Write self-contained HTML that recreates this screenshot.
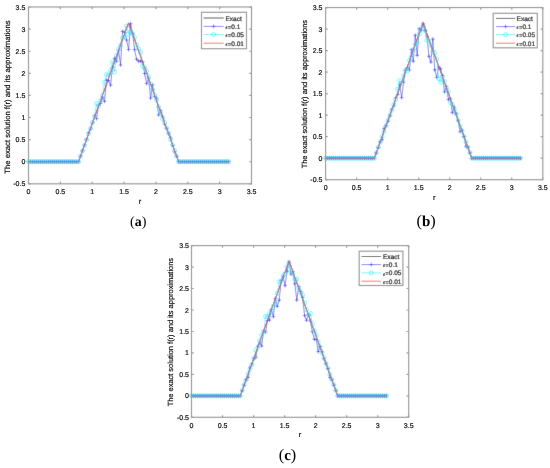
<!DOCTYPE html>
<html><head><meta charset="utf-8"><style>
html,body{margin:0;padding:0;background:#fff;width:550px;height:468px;overflow:hidden}
svg{display:block} text{text-rendering:geometricPrecision}
</style></head><body>
<svg width="550" height="468" viewBox="0 0 550 468">
<defs><filter id="bl" x="0" y="0" width="550" height="468" filterUnits="userSpaceOnUse"><feConvolveMatrix order="3" kernelMatrix="0.0052 0.0619 0.0052 0.0619 0.7314 0.0619 0.0052 0.0619 0.0052" edgeMode="duplicate"/></filter></defs>
<g filter="url(#bl)"><rect width="550" height="468" fill="#fff"/>
<polyline points="28.50,161.70 30.50,161.70 32.50,161.70 34.50,161.70 36.51,161.70 38.51,161.70 40.51,161.70 42.51,161.70 44.51,161.70 46.51,161.70 48.52,161.70 50.52,161.70 52.52,161.70 54.52,161.70 56.52,161.70 58.52,161.70 60.53,161.70 62.53,161.70 64.53,161.70 66.53,161.70 68.53,161.70 70.53,161.70 72.54,161.70 74.54,161.70 76.54,161.70 78.54,161.70 80.54,156.15 82.54,150.59 84.55,145.04 86.55,139.48 88.55,133.93 90.55,128.37 92.55,122.82 94.55,117.27 96.56,111.71 98.56,106.16 100.56,100.60 102.56,95.05 104.56,89.49 106.56,83.94 108.57,78.38 110.57,72.83 112.57,67.28 114.57,61.72 116.57,56.17 118.57,50.61 120.58,45.06 122.58,39.50 124.58,33.95 126.58,28.40 128.58,22.84 130.58,28.40 132.59,33.95 134.59,39.50 136.59,45.06 138.59,50.61 140.59,56.17 142.59,61.72 144.60,67.28 146.60,72.83 148.60,78.38 150.60,83.94 152.60,89.49 154.60,95.05 156.61,100.60 158.61,106.16 160.61,111.71 162.61,117.27 164.61,122.82 166.61,128.37 168.62,133.93 170.62,139.48 172.62,145.04 174.62,150.59 176.62,156.15 178.62,161.70 180.62,161.70 182.63,161.70 184.63,161.70 186.63,161.70 188.63,161.70 190.63,161.70 192.63,161.70 194.64,161.70 196.64,161.70 198.64,161.70 200.64,161.70 202.64,161.70 204.64,161.70 206.65,161.70 208.65,161.70 210.65,161.70 212.65,161.70 214.65,161.70 216.65,161.70 218.66,161.70 220.66,161.70 222.66,161.70 224.66,161.70 226.66,161.70 228.66,161.70" fill="none" stroke="#555" stroke-width="0.9"/>
<polyline points="28.50,161.70 30.50,161.70 32.50,161.70 34.50,161.70 36.51,161.70 38.51,161.70 40.51,161.70 42.51,161.70 44.51,161.70 46.51,161.70 48.52,161.70 50.52,161.70 52.52,161.70 54.52,161.70 56.52,161.70 58.52,161.70 60.53,161.70 62.53,161.70 64.53,161.70 66.53,161.70 68.53,161.70 70.53,161.70 72.54,161.70 74.54,161.70 76.54,161.70 78.54,161.70 80.54,156.17 82.54,150.69 84.55,144.97 86.55,139.39 88.55,132.75 90.55,129.12 92.55,123.11 94.55,115.45 96.56,118.70 98.56,105.42 100.56,103.50 102.56,97.24 104.56,101.40 106.56,80.10 108.57,80.43 110.57,85.20 112.57,67.41 114.57,58.30 116.57,61.20 118.57,50.60 120.58,65.00 122.58,31.30 124.58,32.43 126.58,40.00 128.58,49.60 130.58,23.70 132.59,33.30 134.59,49.60 136.59,59.20 138.59,61.10 140.59,61.20 142.59,61.76 144.60,73.50 146.60,83.60 148.60,78.29 150.60,98.10 152.60,84.70 154.60,96.52 156.61,98.10 158.61,115.00 160.61,110.50 162.61,116.59 164.61,124.10 166.61,128.20 168.62,133.25 170.62,137.40 172.62,145.31 174.62,152.00 176.62,156.12 178.62,161.70 180.62,161.70 182.63,161.70 184.63,161.70 186.63,161.70 188.63,161.70 190.63,161.70 192.63,161.70 194.64,161.70 196.64,161.70 198.64,161.70 200.64,161.70 202.64,161.70 204.64,161.70 206.65,161.70 208.65,161.70 210.65,161.70 212.65,161.70 214.65,161.70 216.65,161.70 218.66,161.70 220.66,161.70 222.66,161.70 224.66,161.70 226.66,161.70 228.66,161.70" fill="none" stroke="#3a3aff" stroke-width="0.6"/>
<path d="M26.65 161.70h3.7M28.50 159.85v3.7M28.65 161.70h3.7M30.50 159.85v3.7M30.65 161.70h3.7M32.50 159.85v3.7M32.65 161.70h3.7M34.50 159.85v3.7M34.66 161.70h3.7M36.51 159.85v3.7M36.66 161.70h3.7M38.51 159.85v3.7M38.66 161.70h3.7M40.51 159.85v3.7M40.66 161.70h3.7M42.51 159.85v3.7M42.66 161.70h3.7M44.51 159.85v3.7M44.66 161.70h3.7M46.51 159.85v3.7M46.67 161.70h3.7M48.52 159.85v3.7M48.67 161.70h3.7M50.52 159.85v3.7M50.67 161.70h3.7M52.52 159.85v3.7M52.67 161.70h3.7M54.52 159.85v3.7M54.67 161.70h3.7M56.52 159.85v3.7M56.67 161.70h3.7M58.52 159.85v3.7M58.68 161.70h3.7M60.53 159.85v3.7M60.68 161.70h3.7M62.53 159.85v3.7M62.68 161.70h3.7M64.53 159.85v3.7M64.68 161.70h3.7M66.53 159.85v3.7M66.68 161.70h3.7M68.53 159.85v3.7M68.68 161.70h3.7M70.53 159.85v3.7M70.69 161.70h3.7M72.54 159.85v3.7M72.69 161.70h3.7M74.54 159.85v3.7M74.69 161.70h3.7M76.54 159.85v3.7M76.69 161.70h3.7M78.54 159.85v3.7M78.69 156.17h3.7M80.54 154.32v3.7M80.69 150.69h3.7M82.54 148.84v3.7M82.70 144.97h3.7M84.55 143.12v3.7M84.70 139.39h3.7M86.55 137.54v3.7M86.70 132.75h3.7M88.55 130.90v3.7M88.70 129.12h3.7M90.55 127.27v3.7M90.70 123.11h3.7M92.55 121.26v3.7M92.70 115.45h3.7M94.55 113.60v3.7M94.71 118.70h3.7M96.56 116.85v3.7M96.71 105.42h3.7M98.56 103.57v3.7M98.71 103.50h3.7M100.56 101.65v3.7M100.71 97.24h3.7M102.56 95.39v3.7M102.71 101.40h3.7M104.56 99.55v3.7M104.71 80.10h3.7M106.56 78.25v3.7M106.72 80.43h3.7M108.57 78.58v3.7M108.72 85.20h3.7M110.57 83.35v3.7M110.72 67.41h3.7M112.57 65.56v3.7M112.72 58.30h3.7M114.57 56.45v3.7M114.72 61.20h3.7M116.57 59.35v3.7M116.72 50.60h3.7M118.57 48.75v3.7M118.73 65.00h3.7M120.58 63.15v3.7M120.73 31.30h3.7M122.58 29.45v3.7M122.73 32.43h3.7M124.58 30.58v3.7M124.73 40.00h3.7M126.58 38.15v3.7M126.73 49.60h3.7M128.58 47.75v3.7M128.73 23.70h3.7M130.58 21.85v3.7M130.74 33.30h3.7M132.59 31.45v3.7M132.74 49.60h3.7M134.59 47.75v3.7M134.74 59.20h3.7M136.59 57.35v3.7M136.74 61.10h3.7M138.59 59.25v3.7M138.74 61.20h3.7M140.59 59.35v3.7M140.74 61.76h3.7M142.59 59.91v3.7M142.75 73.50h3.7M144.60 71.65v3.7M144.75 83.60h3.7M146.60 81.75v3.7M146.75 78.29h3.7M148.60 76.44v3.7M148.75 98.10h3.7M150.60 96.25v3.7M150.75 84.70h3.7M152.60 82.85v3.7M152.75 96.52h3.7M154.60 94.67v3.7M154.76 98.10h3.7M156.61 96.25v3.7M156.76 115.00h3.7M158.61 113.15v3.7M158.76 110.50h3.7M160.61 108.65v3.7M160.76 116.59h3.7M162.61 114.74v3.7M162.76 124.10h3.7M164.61 122.25v3.7M164.76 128.20h3.7M166.61 126.35v3.7M166.77 133.25h3.7M168.62 131.40v3.7M168.77 137.40h3.7M170.62 135.55v3.7M170.77 145.31h3.7M172.62 143.46v3.7M172.77 152.00h3.7M174.62 150.15v3.7M174.77 156.12h3.7M176.62 154.27v3.7M176.77 161.70h3.7M178.62 159.85v3.7M178.77 161.70h3.7M180.62 159.85v3.7M180.78 161.70h3.7M182.63 159.85v3.7M182.78 161.70h3.7M184.63 159.85v3.7M184.78 161.70h3.7M186.63 159.85v3.7M186.78 161.70h3.7M188.63 159.85v3.7M188.78 161.70h3.7M190.63 159.85v3.7M190.78 161.70h3.7M192.63 159.85v3.7M192.79 161.70h3.7M194.64 159.85v3.7M194.79 161.70h3.7M196.64 159.85v3.7M196.79 161.70h3.7M198.64 159.85v3.7M198.79 161.70h3.7M200.64 159.85v3.7M200.79 161.70h3.7M202.64 159.85v3.7M202.79 161.70h3.7M204.64 159.85v3.7M204.80 161.70h3.7M206.65 159.85v3.7M206.80 161.70h3.7M208.65 159.85v3.7M208.80 161.70h3.7M210.65 159.85v3.7M210.80 161.70h3.7M212.65 159.85v3.7M212.80 161.70h3.7M214.65 159.85v3.7M214.80 161.70h3.7M216.65 159.85v3.7M216.81 161.70h3.7M218.66 159.85v3.7M218.81 161.70h3.7M220.66 159.85v3.7M220.81 161.70h3.7M222.66 159.85v3.7M222.81 161.70h3.7M224.66 159.85v3.7M224.81 161.70h3.7M226.66 159.85v3.7M226.81 161.70h3.7M228.66 159.85v3.7" fill="none" stroke="#3a3aff" stroke-width="0.6"/>
<polyline points="28.50,161.70 30.50,161.70 32.50,161.70 34.50,161.70 36.51,161.70 38.51,161.70 40.51,161.70 42.51,161.70 44.51,161.70 46.51,161.70 48.52,161.70 50.52,161.70 52.52,161.70 54.52,161.70 56.52,161.70 58.52,161.70 60.53,161.70 62.53,161.70 64.53,161.70 66.53,161.70 68.53,161.70 70.53,161.70 72.54,161.70 74.54,161.70 76.54,161.70 78.54,161.70 80.54,155.97 82.54,150.86 84.55,145.47 86.55,139.98 88.55,133.58 90.55,128.31 92.55,122.19 94.55,116.78 96.56,103.50 98.56,105.92 100.56,100.76 102.56,95.40 104.56,82.30 106.56,74.60 108.57,75.00 110.57,70.43 112.57,62.00 114.57,71.90 116.57,55.40 118.57,49.00 120.58,45.47 122.58,38.00 124.58,37.10 126.58,26.14 128.58,34.20 130.58,31.23 132.59,33.66 134.59,37.28 136.59,44.91 138.59,48.95 140.59,52.41 142.59,66.00 144.60,67.67 146.60,70.80 148.60,76.50 150.60,84.17 152.60,89.69 154.60,95.15 156.61,100.01 158.61,107.05 160.61,112.86 162.61,118.89 164.61,122.12 166.61,128.34 168.62,133.30 170.62,139.49 172.62,145.22 174.62,150.51 176.62,156.15 178.62,161.70 180.62,161.70 182.63,161.70 184.63,161.70 186.63,161.70 188.63,161.70 190.63,161.70 192.63,161.70 194.64,161.70 196.64,161.70 198.64,161.70 200.64,161.70 202.64,161.70 204.64,161.70 206.65,161.70 208.65,161.70 210.65,161.70 212.65,161.70 214.65,161.70 216.65,161.70 218.66,161.70 220.66,161.70 222.66,161.70 224.66,161.70 226.66,161.70 228.66,161.70" fill="none" stroke="#30f0ff" stroke-width="0.65"/>
<g fill="none" stroke="#30f0ff" stroke-width="0.65"><circle cx="28.50" cy="161.70" r="2.0"/><circle cx="30.50" cy="161.70" r="2.0"/><circle cx="32.50" cy="161.70" r="2.0"/><circle cx="34.50" cy="161.70" r="2.0"/><circle cx="36.51" cy="161.70" r="2.0"/><circle cx="38.51" cy="161.70" r="2.0"/><circle cx="40.51" cy="161.70" r="2.0"/><circle cx="42.51" cy="161.70" r="2.0"/><circle cx="44.51" cy="161.70" r="2.0"/><circle cx="46.51" cy="161.70" r="2.0"/><circle cx="48.52" cy="161.70" r="2.0"/><circle cx="50.52" cy="161.70" r="2.0"/><circle cx="52.52" cy="161.70" r="2.0"/><circle cx="54.52" cy="161.70" r="2.0"/><circle cx="56.52" cy="161.70" r="2.0"/><circle cx="58.52" cy="161.70" r="2.0"/><circle cx="60.53" cy="161.70" r="2.0"/><circle cx="62.53" cy="161.70" r="2.0"/><circle cx="64.53" cy="161.70" r="2.0"/><circle cx="66.53" cy="161.70" r="2.0"/><circle cx="68.53" cy="161.70" r="2.0"/><circle cx="70.53" cy="161.70" r="2.0"/><circle cx="72.54" cy="161.70" r="2.0"/><circle cx="74.54" cy="161.70" r="2.0"/><circle cx="76.54" cy="161.70" r="2.0"/><circle cx="78.54" cy="161.70" r="2.0"/><circle cx="80.54" cy="155.97" r="2.0"/><circle cx="82.54" cy="150.86" r="2.0"/><circle cx="84.55" cy="145.47" r="2.0"/><circle cx="86.55" cy="139.98" r="2.0"/><circle cx="88.55" cy="133.58" r="2.0"/><circle cx="90.55" cy="128.31" r="2.0"/><circle cx="92.55" cy="122.19" r="2.0"/><circle cx="94.55" cy="116.78" r="2.0"/><circle cx="96.56" cy="103.50" r="2.0"/><circle cx="98.56" cy="105.92" r="2.0"/><circle cx="100.56" cy="100.76" r="2.0"/><circle cx="102.56" cy="95.40" r="2.0"/><circle cx="104.56" cy="82.30" r="2.0"/><circle cx="106.56" cy="74.60" r="2.0"/><circle cx="108.57" cy="75.00" r="2.0"/><circle cx="110.57" cy="70.43" r="2.0"/><circle cx="112.57" cy="62.00" r="2.0"/><circle cx="114.57" cy="71.90" r="2.0"/><circle cx="116.57" cy="55.40" r="2.0"/><circle cx="118.57" cy="49.00" r="2.0"/><circle cx="120.58" cy="45.47" r="2.0"/><circle cx="122.58" cy="38.00" r="2.0"/><circle cx="124.58" cy="37.10" r="2.0"/><circle cx="126.58" cy="26.14" r="2.0"/><circle cx="128.58" cy="34.20" r="2.0"/><circle cx="130.58" cy="31.23" r="2.0"/><circle cx="132.59" cy="33.66" r="2.0"/><circle cx="134.59" cy="37.28" r="2.0"/><circle cx="136.59" cy="44.91" r="2.0"/><circle cx="138.59" cy="48.95" r="2.0"/><circle cx="140.59" cy="52.41" r="2.0"/><circle cx="142.59" cy="66.00" r="2.0"/><circle cx="144.60" cy="67.67" r="2.0"/><circle cx="146.60" cy="70.80" r="2.0"/><circle cx="148.60" cy="76.50" r="2.0"/><circle cx="150.60" cy="84.17" r="2.0"/><circle cx="152.60" cy="89.69" r="2.0"/><circle cx="154.60" cy="95.15" r="2.0"/><circle cx="156.61" cy="100.01" r="2.0"/><circle cx="158.61" cy="107.05" r="2.0"/><circle cx="160.61" cy="112.86" r="2.0"/><circle cx="162.61" cy="118.89" r="2.0"/><circle cx="164.61" cy="122.12" r="2.0"/><circle cx="166.61" cy="128.34" r="2.0"/><circle cx="168.62" cy="133.30" r="2.0"/><circle cx="170.62" cy="139.49" r="2.0"/><circle cx="172.62" cy="145.22" r="2.0"/><circle cx="174.62" cy="150.51" r="2.0"/><circle cx="176.62" cy="156.15" r="2.0"/><circle cx="178.62" cy="161.70" r="2.0"/><circle cx="180.62" cy="161.70" r="2.0"/><circle cx="182.63" cy="161.70" r="2.0"/><circle cx="184.63" cy="161.70" r="2.0"/><circle cx="186.63" cy="161.70" r="2.0"/><circle cx="188.63" cy="161.70" r="2.0"/><circle cx="190.63" cy="161.70" r="2.0"/><circle cx="192.63" cy="161.70" r="2.0"/><circle cx="194.64" cy="161.70" r="2.0"/><circle cx="196.64" cy="161.70" r="2.0"/><circle cx="198.64" cy="161.70" r="2.0"/><circle cx="200.64" cy="161.70" r="2.0"/><circle cx="202.64" cy="161.70" r="2.0"/><circle cx="204.64" cy="161.70" r="2.0"/><circle cx="206.65" cy="161.70" r="2.0"/><circle cx="208.65" cy="161.70" r="2.0"/><circle cx="210.65" cy="161.70" r="2.0"/><circle cx="212.65" cy="161.70" r="2.0"/><circle cx="214.65" cy="161.70" r="2.0"/><circle cx="216.65" cy="161.70" r="2.0"/><circle cx="218.66" cy="161.70" r="2.0"/><circle cx="220.66" cy="161.70" r="2.0"/><circle cx="222.66" cy="161.70" r="2.0"/><circle cx="224.66" cy="161.70" r="2.0"/><circle cx="226.66" cy="161.70" r="2.0"/><circle cx="228.66" cy="161.70" r="2.0"/></g>
<path d="M28.50 159.85v3.7M30.50 159.85v3.7M32.50 159.85v3.7M34.50 159.85v3.7M36.51 159.85v3.7M38.51 159.85v3.7M40.51 159.85v3.7M42.51 159.85v3.7M44.51 159.85v3.7M46.51 159.85v3.7M48.52 159.85v3.7M50.52 159.85v3.7M52.52 159.85v3.7M54.52 159.85v3.7M56.52 159.85v3.7M58.52 159.85v3.7M60.53 159.85v3.7M62.53 159.85v3.7M64.53 159.85v3.7M66.53 159.85v3.7M68.53 159.85v3.7M70.53 159.85v3.7M72.54 159.85v3.7M74.54 159.85v3.7M76.54 159.85v3.7M178.62 159.85v3.7M180.62 159.85v3.7M182.63 159.85v3.7M184.63 159.85v3.7M186.63 159.85v3.7M188.63 159.85v3.7M190.63 159.85v3.7M192.63 159.85v3.7M194.64 159.85v3.7M196.64 159.85v3.7M198.64 159.85v3.7M200.64 159.85v3.7M202.64 159.85v3.7M204.64 159.85v3.7M206.65 159.85v3.7M208.65 159.85v3.7M210.65 159.85v3.7M212.65 159.85v3.7M214.65 159.85v3.7M216.65 159.85v3.7M218.66 159.85v3.7M220.66 159.85v3.7M222.66 159.85v3.7M224.66 159.85v3.7M226.66 159.85v3.7M228.66 159.85v3.7" fill="none" stroke="#3a3aff" stroke-width="0.6" opacity="0.45"/>
<polyline points="28.50,161.70 30.50,161.70 32.50,161.70 34.50,161.70 36.51,161.70 38.51,161.70 40.51,161.70 42.51,161.70 44.51,161.70 46.51,161.70 48.52,161.70 50.52,161.70 52.52,161.70 54.52,161.70 56.52,161.70 58.52,161.70 60.53,161.70 62.53,161.70 64.53,161.70 66.53,161.70 68.53,161.70 70.53,161.70 72.54,161.70 74.54,161.70 76.54,161.70 78.54,161.70 80.54,156.04 82.54,150.62 84.55,145.08 86.55,139.26 88.55,134.17 90.55,128.47 92.55,122.48 94.55,117.01 96.56,111.67 98.56,105.78 100.56,102.33 102.56,94.37 104.56,90.19 106.56,85.24 108.57,78.15 110.57,72.21 112.57,67.70 114.57,62.80 116.57,56.14 118.57,50.67 120.58,43.42 122.58,38.59 124.58,33.70 126.58,26.91 128.58,23.13 130.58,29.63 132.59,33.20 134.59,38.79 136.59,45.31 138.59,51.48 140.59,55.93 142.59,64.22 144.60,66.62 146.60,72.39 148.60,79.75 150.60,83.89 152.60,90.19 154.60,94.54 156.61,101.85 158.61,106.66 160.61,111.36 162.61,116.75 164.61,123.66 166.61,128.54 168.62,133.84 170.62,139.62 172.62,144.77 174.62,150.72 176.62,156.13 178.62,161.70 180.62,161.70 182.63,161.70 184.63,161.70 186.63,161.70 188.63,161.70 190.63,161.70 192.63,161.70 194.64,161.70 196.64,161.70 198.64,161.70 200.64,161.70 202.64,161.70 204.64,161.70 206.65,161.70 208.65,161.70 210.65,161.70 212.65,161.70 214.65,161.70 216.65,161.70 218.66,161.70 220.66,161.70 222.66,161.70 224.66,161.70 226.66,161.70 228.66,161.70" fill="none" stroke="#ff5050" stroke-width="0.8"/>
<rect x="28.5" y="7.0" width="223.00" height="176.80" fill="none" stroke="#969696" stroke-width="1.15"/>
<path d="M28.50 183.8v-2.23M28.50 7.0v2.23M60.36 183.8v-2.23M60.36 7.0v2.23M92.21 183.8v-2.23M92.21 7.0v2.23M124.07 183.8v-2.23M124.07 7.0v2.23M155.93 183.8v-2.23M155.93 7.0v2.23M187.79 183.8v-2.23M187.79 7.0v2.23M219.64 183.8v-2.23M219.64 7.0v2.23M251.50 183.8v-2.23M251.50 7.0v2.23M28.5 183.80h2.23M251.5 183.80h-2.23M28.5 161.70h2.23M251.5 161.70h-2.23M28.5 139.60h2.23M251.5 139.60h-2.23M28.5 117.50h2.23M251.5 117.50h-2.23M28.5 95.40h2.23M251.5 95.40h-2.23M28.5 73.30h2.23M251.5 73.30h-2.23M28.5 51.20h2.23M251.5 51.20h-2.23M28.5 29.10h2.23M251.5 29.10h-2.23M28.5 7.00h2.23M251.5 7.00h-2.23" stroke="#969696" stroke-width="1.15" fill="none"/>
<rect x="201.5" y="12.3" width="45.00" height="36.40" fill="#fff" stroke="#969696" stroke-width="1.15"/>
<path d="M203.6 18.0H223.7" stroke="#999" stroke-width="1.6"/>
<path d="M203.6 26.4H223.7M211.80 26.4h3.7M213.65 24.55v3.7" stroke="#3a3aff" stroke-width="0.6"/>
<path d="M203.6 34.5H223.7" stroke="#30f0ff" stroke-width="0.65"/><circle cx="213.65" cy="34.5" r="2.0" fill="none" stroke="#30f0ff" stroke-width="0.65"/>
<path d="M203.6 43.2H223.7" stroke="#ff5050" stroke-width="0.8"/>
<g font-family="Liberation Sans, Arial, sans-serif" font-size="6.5" fill="#000" stroke="#000" stroke-width="0.2"><text x="225.5" y="20.54">Exact</text><text x="225.5" y="28.94"><tspan font-size="4.68" dy="0.3">&#x3F5;</tspan><tspan dy="-0.3" dx="0.5" font-size="5.20">=</tspan><tspan dx="0.2">0.1</tspan></text><text x="225.5" y="37.04"><tspan font-size="4.68" dy="0.3">&#x3F5;</tspan><tspan dy="-0.3" dx="0.5" font-size="5.20">=</tspan><tspan dx="0.2">0.05</tspan></text><text x="225.5" y="45.74"><tspan font-size="4.68" dy="0.3">&#x3F5;</tspan><tspan dy="-0.3" dx="0.5" font-size="5.20">=</tspan><tspan dx="0.2">0.01</tspan></text></g>
<polyline points="325.60,158.18 327.55,158.18 329.50,158.18 331.45,158.18 333.40,158.18 335.35,158.18 337.30,158.18 339.25,158.18 341.20,158.18 343.15,158.18 345.10,158.18 347.05,158.18 348.99,158.18 350.94,158.18 352.89,158.18 354.84,158.18 356.79,158.18 358.74,158.18 360.69,158.18 362.64,158.18 364.59,158.18 366.54,158.18 368.49,158.18 370.44,158.18 372.39,158.18 374.34,158.18 376.29,152.77 378.24,147.36 380.19,141.96 382.14,136.55 384.09,131.14 386.04,125.73 387.99,120.32 389.94,114.92 391.89,109.51 393.84,104.10 395.78,98.69 397.73,93.28 399.68,87.87 401.63,82.47 403.58,77.06 405.53,71.65 407.48,66.24 409.43,60.83 411.38,55.42 413.33,50.02 415.28,44.61 417.23,39.20 419.18,33.79 421.13,28.38 423.08,22.97 425.03,28.38 426.98,33.79 428.93,39.20 430.88,44.61 432.83,50.02 434.78,55.42 436.73,60.83 438.68,66.24 440.63,71.65 442.57,77.06 444.52,82.47 446.47,87.87 448.42,93.28 450.37,98.69 452.32,104.10 454.27,109.51 456.22,114.92 458.17,120.32 460.12,125.73 462.07,131.14 464.02,136.55 465.97,141.96 467.92,147.36 469.87,152.77 471.82,158.18 473.77,158.18 475.72,158.18 477.67,158.18 479.62,158.18 481.57,158.18 483.52,158.18 485.47,158.18 487.42,158.18 489.36,158.18 491.31,158.18 493.26,158.18 495.21,158.18 497.16,158.18 499.11,158.18 501.06,158.18 503.01,158.18 504.96,158.18 506.91,158.18 508.86,158.18 510.81,158.18 512.76,158.18 514.71,158.18 516.66,158.18 518.61,158.18 520.56,158.18" fill="none" stroke="#555" stroke-width="0.9"/>
<polyline points="325.60,158.18 327.55,158.18 329.50,158.18 331.45,158.18 333.40,158.18 335.35,158.18 337.30,158.18 339.25,158.18 341.20,158.18 343.15,158.18 345.10,158.18 347.05,158.18 348.99,158.18 350.94,158.18 352.89,158.18 354.84,158.18 356.79,158.18 358.74,158.18 360.69,158.18 362.64,158.18 364.59,158.18 366.54,158.18 368.49,158.18 370.44,158.18 372.39,158.18 374.34,158.18 376.29,152.77 378.24,147.56 380.19,141.70 382.14,139.70 384.09,128.40 386.04,125.60 387.99,121.45 389.94,116.00 391.89,109.33 393.84,106.00 395.78,97.55 397.73,94.55 399.68,84.20 401.63,97.70 403.58,82.30 405.53,70.18 407.48,67.55 409.43,70.10 411.38,49.60 413.33,61.20 415.28,35.20 417.23,55.40 419.18,28.67 421.13,30.40 423.08,23.76 425.03,30.40 426.98,36.16 428.93,56.30 430.88,62.10 432.83,39.00 434.78,69.80 436.73,77.50 438.68,66.89 440.63,68.80 442.57,75.68 444.52,91.90 446.47,86.38 448.42,99.60 450.37,98.71 452.32,112.70 454.27,107.10 456.22,113.86 458.17,120.91 460.12,131.80 462.07,130.03 464.02,136.61 465.97,146.40 467.92,146.96 469.87,152.81 471.82,158.18 473.77,158.18 475.72,158.18 477.67,158.18 479.62,158.18 481.57,158.18 483.52,158.18 485.47,158.18 487.42,158.18 489.36,158.18 491.31,158.18 493.26,158.18 495.21,158.18 497.16,158.18 499.11,158.18 501.06,158.18 503.01,158.18 504.96,158.18 506.91,158.18 508.86,158.18 510.81,158.18 512.76,158.18 514.71,158.18 516.66,158.18 518.61,158.18 520.56,158.18" fill="none" stroke="#3a3aff" stroke-width="0.6"/>
<path d="M323.75 158.18h3.7M325.60 156.33v3.7M325.70 158.18h3.7M327.55 156.33v3.7M327.65 158.18h3.7M329.50 156.33v3.7M329.60 158.18h3.7M331.45 156.33v3.7M331.55 158.18h3.7M333.40 156.33v3.7M333.50 158.18h3.7M335.35 156.33v3.7M335.45 158.18h3.7M337.30 156.33v3.7M337.40 158.18h3.7M339.25 156.33v3.7M339.35 158.18h3.7M341.20 156.33v3.7M341.30 158.18h3.7M343.15 156.33v3.7M343.25 158.18h3.7M345.10 156.33v3.7M345.20 158.18h3.7M347.05 156.33v3.7M347.14 158.18h3.7M348.99 156.33v3.7M349.09 158.18h3.7M350.94 156.33v3.7M351.04 158.18h3.7M352.89 156.33v3.7M352.99 158.18h3.7M354.84 156.33v3.7M354.94 158.18h3.7M356.79 156.33v3.7M356.89 158.18h3.7M358.74 156.33v3.7M358.84 158.18h3.7M360.69 156.33v3.7M360.79 158.18h3.7M362.64 156.33v3.7M362.74 158.18h3.7M364.59 156.33v3.7M364.69 158.18h3.7M366.54 156.33v3.7M366.64 158.18h3.7M368.49 156.33v3.7M368.59 158.18h3.7M370.44 156.33v3.7M370.54 158.18h3.7M372.39 156.33v3.7M372.49 158.18h3.7M374.34 156.33v3.7M374.44 152.77h3.7M376.29 150.92v3.7M376.39 147.56h3.7M378.24 145.71v3.7M378.34 141.70h3.7M380.19 139.85v3.7M380.29 139.70h3.7M382.14 137.85v3.7M382.24 128.40h3.7M384.09 126.55v3.7M384.19 125.60h3.7M386.04 123.75v3.7M386.14 121.45h3.7M387.99 119.60v3.7M388.09 116.00h3.7M389.94 114.15v3.7M390.04 109.33h3.7M391.89 107.48v3.7M391.99 106.00h3.7M393.84 104.15v3.7M393.93 97.55h3.7M395.78 95.70v3.7M395.88 94.55h3.7M397.73 92.70v3.7M397.83 84.20h3.7M399.68 82.35v3.7M399.78 97.70h3.7M401.63 95.85v3.7M401.73 82.30h3.7M403.58 80.45v3.7M403.68 70.18h3.7M405.53 68.33v3.7M405.63 67.55h3.7M407.48 65.70v3.7M407.58 70.10h3.7M409.43 68.25v3.7M409.53 49.60h3.7M411.38 47.75v3.7M411.48 61.20h3.7M413.33 59.35v3.7M413.43 35.20h3.7M415.28 33.35v3.7M415.38 55.40h3.7M417.23 53.55v3.7M417.33 28.67h3.7M419.18 26.82v3.7M419.28 30.40h3.7M421.13 28.55v3.7M421.23 23.76h3.7M423.08 21.91v3.7M423.18 30.40h3.7M425.03 28.55v3.7M425.13 36.16h3.7M426.98 34.31v3.7M427.08 56.30h3.7M428.93 54.45v3.7M429.03 62.10h3.7M430.88 60.25v3.7M430.98 39.00h3.7M432.83 37.15v3.7M432.93 69.80h3.7M434.78 67.95v3.7M434.88 77.50h3.7M436.73 75.65v3.7M436.83 66.89h3.7M438.68 65.04v3.7M438.78 68.80h3.7M440.63 66.95v3.7M440.72 75.68h3.7M442.57 73.83v3.7M442.67 91.90h3.7M444.52 90.05v3.7M444.62 86.38h3.7M446.47 84.53v3.7M446.57 99.60h3.7M448.42 97.75v3.7M448.52 98.71h3.7M450.37 96.86v3.7M450.47 112.70h3.7M452.32 110.85v3.7M452.42 107.10h3.7M454.27 105.25v3.7M454.37 113.86h3.7M456.22 112.01v3.7M456.32 120.91h3.7M458.17 119.06v3.7M458.27 131.80h3.7M460.12 129.95v3.7M460.22 130.03h3.7M462.07 128.18v3.7M462.17 136.61h3.7M464.02 134.76v3.7M464.12 146.40h3.7M465.97 144.55v3.7M466.07 146.96h3.7M467.92 145.11v3.7M468.02 152.81h3.7M469.87 150.96v3.7M469.97 158.18h3.7M471.82 156.33v3.7M471.92 158.18h3.7M473.77 156.33v3.7M473.87 158.18h3.7M475.72 156.33v3.7M475.82 158.18h3.7M477.67 156.33v3.7M477.77 158.18h3.7M479.62 156.33v3.7M479.72 158.18h3.7M481.57 156.33v3.7M481.67 158.18h3.7M483.52 156.33v3.7M483.62 158.18h3.7M485.47 156.33v3.7M485.57 158.18h3.7M487.42 156.33v3.7M487.51 158.18h3.7M489.36 156.33v3.7M489.46 158.18h3.7M491.31 156.33v3.7M491.41 158.18h3.7M493.26 156.33v3.7M493.36 158.18h3.7M495.21 156.33v3.7M495.31 158.18h3.7M497.16 156.33v3.7M497.26 158.18h3.7M499.11 156.33v3.7M499.21 158.18h3.7M501.06 156.33v3.7M501.16 158.18h3.7M503.01 156.33v3.7M503.11 158.18h3.7M504.96 156.33v3.7M505.06 158.18h3.7M506.91 156.33v3.7M507.01 158.18h3.7M508.86 156.33v3.7M508.96 158.18h3.7M510.81 156.33v3.7M510.91 158.18h3.7M512.76 156.33v3.7M512.86 158.18h3.7M514.71 156.33v3.7M514.81 158.18h3.7M516.66 156.33v3.7M516.76 158.18h3.7M518.61 156.33v3.7M518.71 158.18h3.7M520.56 156.33v3.7" fill="none" stroke="#3a3aff" stroke-width="0.6"/>
<polyline points="325.60,158.18 327.55,158.18 329.50,158.18 331.45,158.18 333.40,158.18 335.35,158.18 337.30,158.18 339.25,158.18 341.20,158.18 343.15,158.18 345.10,158.18 347.05,158.18 348.99,158.18 350.94,158.18 352.89,158.18 354.84,158.18 356.79,158.18 358.74,158.18 360.69,158.18 362.64,158.18 364.59,158.18 366.54,158.18 368.49,158.18 370.44,158.18 372.39,158.18 374.34,158.18 376.29,152.91 378.24,147.41 380.19,142.20 382.14,136.60 384.09,131.66 386.04,125.72 387.99,120.35 389.94,115.11 391.89,110.27 393.84,104.42 395.78,99.66 397.73,89.20 399.68,80.40 401.63,83.73 403.58,75.63 405.53,70.10 407.48,70.80 409.43,60.44 411.38,57.12 413.33,49.96 415.28,44.53 417.23,42.75 419.18,34.23 421.13,28.88 423.08,25.60 425.03,30.68 426.98,40.00 428.93,41.16 430.88,45.17 432.83,51.38 434.78,53.19 436.73,59.20 438.68,78.50 440.63,82.40 442.57,76.03 444.52,81.51 446.47,88.51 448.42,91.90 450.37,102.60 452.32,104.42 454.27,109.37 456.22,113.80 458.17,119.98 460.12,125.91 462.07,131.20 464.02,136.47 465.97,141.93 467.92,147.51 469.87,152.70 471.82,158.18 473.77,158.18 475.72,158.18 477.67,158.18 479.62,158.18 481.57,158.18 483.52,158.18 485.47,158.18 487.42,158.18 489.36,158.18 491.31,158.18 493.26,158.18 495.21,158.18 497.16,158.18 499.11,158.18 501.06,158.18 503.01,158.18 504.96,158.18 506.91,158.18 508.86,158.18 510.81,158.18 512.76,158.18 514.71,158.18 516.66,158.18 518.61,158.18 520.56,158.18" fill="none" stroke="#30f0ff" stroke-width="0.65"/>
<g fill="none" stroke="#30f0ff" stroke-width="0.65"><circle cx="325.60" cy="158.18" r="2.0"/><circle cx="327.55" cy="158.18" r="2.0"/><circle cx="329.50" cy="158.18" r="2.0"/><circle cx="331.45" cy="158.18" r="2.0"/><circle cx="333.40" cy="158.18" r="2.0"/><circle cx="335.35" cy="158.18" r="2.0"/><circle cx="337.30" cy="158.18" r="2.0"/><circle cx="339.25" cy="158.18" r="2.0"/><circle cx="341.20" cy="158.18" r="2.0"/><circle cx="343.15" cy="158.18" r="2.0"/><circle cx="345.10" cy="158.18" r="2.0"/><circle cx="347.05" cy="158.18" r="2.0"/><circle cx="348.99" cy="158.18" r="2.0"/><circle cx="350.94" cy="158.18" r="2.0"/><circle cx="352.89" cy="158.18" r="2.0"/><circle cx="354.84" cy="158.18" r="2.0"/><circle cx="356.79" cy="158.18" r="2.0"/><circle cx="358.74" cy="158.18" r="2.0"/><circle cx="360.69" cy="158.18" r="2.0"/><circle cx="362.64" cy="158.18" r="2.0"/><circle cx="364.59" cy="158.18" r="2.0"/><circle cx="366.54" cy="158.18" r="2.0"/><circle cx="368.49" cy="158.18" r="2.0"/><circle cx="370.44" cy="158.18" r="2.0"/><circle cx="372.39" cy="158.18" r="2.0"/><circle cx="374.34" cy="158.18" r="2.0"/><circle cx="376.29" cy="152.91" r="2.0"/><circle cx="378.24" cy="147.41" r="2.0"/><circle cx="380.19" cy="142.20" r="2.0"/><circle cx="382.14" cy="136.60" r="2.0"/><circle cx="384.09" cy="131.66" r="2.0"/><circle cx="386.04" cy="125.72" r="2.0"/><circle cx="387.99" cy="120.35" r="2.0"/><circle cx="389.94" cy="115.11" r="2.0"/><circle cx="391.89" cy="110.27" r="2.0"/><circle cx="393.84" cy="104.42" r="2.0"/><circle cx="395.78" cy="99.66" r="2.0"/><circle cx="397.73" cy="89.20" r="2.0"/><circle cx="399.68" cy="80.40" r="2.0"/><circle cx="401.63" cy="83.73" r="2.0"/><circle cx="403.58" cy="75.63" r="2.0"/><circle cx="405.53" cy="70.10" r="2.0"/><circle cx="407.48" cy="70.80" r="2.0"/><circle cx="409.43" cy="60.44" r="2.0"/><circle cx="411.38" cy="57.12" r="2.0"/><circle cx="413.33" cy="49.96" r="2.0"/><circle cx="415.28" cy="44.53" r="2.0"/><circle cx="417.23" cy="42.75" r="2.0"/><circle cx="419.18" cy="34.23" r="2.0"/><circle cx="421.13" cy="28.88" r="2.0"/><circle cx="423.08" cy="25.60" r="2.0"/><circle cx="425.03" cy="30.68" r="2.0"/><circle cx="426.98" cy="40.00" r="2.0"/><circle cx="428.93" cy="41.16" r="2.0"/><circle cx="430.88" cy="45.17" r="2.0"/><circle cx="432.83" cy="51.38" r="2.0"/><circle cx="434.78" cy="53.19" r="2.0"/><circle cx="436.73" cy="59.20" r="2.0"/><circle cx="438.68" cy="78.50" r="2.0"/><circle cx="440.63" cy="82.40" r="2.0"/><circle cx="442.57" cy="76.03" r="2.0"/><circle cx="444.52" cy="81.51" r="2.0"/><circle cx="446.47" cy="88.51" r="2.0"/><circle cx="448.42" cy="91.90" r="2.0"/><circle cx="450.37" cy="102.60" r="2.0"/><circle cx="452.32" cy="104.42" r="2.0"/><circle cx="454.27" cy="109.37" r="2.0"/><circle cx="456.22" cy="113.80" r="2.0"/><circle cx="458.17" cy="119.98" r="2.0"/><circle cx="460.12" cy="125.91" r="2.0"/><circle cx="462.07" cy="131.20" r="2.0"/><circle cx="464.02" cy="136.47" r="2.0"/><circle cx="465.97" cy="141.93" r="2.0"/><circle cx="467.92" cy="147.51" r="2.0"/><circle cx="469.87" cy="152.70" r="2.0"/><circle cx="471.82" cy="158.18" r="2.0"/><circle cx="473.77" cy="158.18" r="2.0"/><circle cx="475.72" cy="158.18" r="2.0"/><circle cx="477.67" cy="158.18" r="2.0"/><circle cx="479.62" cy="158.18" r="2.0"/><circle cx="481.57" cy="158.18" r="2.0"/><circle cx="483.52" cy="158.18" r="2.0"/><circle cx="485.47" cy="158.18" r="2.0"/><circle cx="487.42" cy="158.18" r="2.0"/><circle cx="489.36" cy="158.18" r="2.0"/><circle cx="491.31" cy="158.18" r="2.0"/><circle cx="493.26" cy="158.18" r="2.0"/><circle cx="495.21" cy="158.18" r="2.0"/><circle cx="497.16" cy="158.18" r="2.0"/><circle cx="499.11" cy="158.18" r="2.0"/><circle cx="501.06" cy="158.18" r="2.0"/><circle cx="503.01" cy="158.18" r="2.0"/><circle cx="504.96" cy="158.18" r="2.0"/><circle cx="506.91" cy="158.18" r="2.0"/><circle cx="508.86" cy="158.18" r="2.0"/><circle cx="510.81" cy="158.18" r="2.0"/><circle cx="512.76" cy="158.18" r="2.0"/><circle cx="514.71" cy="158.18" r="2.0"/><circle cx="516.66" cy="158.18" r="2.0"/><circle cx="518.61" cy="158.18" r="2.0"/><circle cx="520.56" cy="158.18" r="2.0"/></g>
<path d="M325.60 156.33v3.7M327.55 156.33v3.7M329.50 156.33v3.7M331.45 156.33v3.7M333.40 156.33v3.7M335.35 156.33v3.7M337.30 156.33v3.7M339.25 156.33v3.7M341.20 156.33v3.7M343.15 156.33v3.7M345.10 156.33v3.7M347.05 156.33v3.7M348.99 156.33v3.7M350.94 156.33v3.7M352.89 156.33v3.7M354.84 156.33v3.7M356.79 156.33v3.7M358.74 156.33v3.7M360.69 156.33v3.7M362.64 156.33v3.7M364.59 156.33v3.7M366.54 156.33v3.7M368.49 156.33v3.7M370.44 156.33v3.7M372.39 156.33v3.7M471.82 156.33v3.7M473.77 156.33v3.7M475.72 156.33v3.7M477.67 156.33v3.7M479.62 156.33v3.7M481.57 156.33v3.7M483.52 156.33v3.7M485.47 156.33v3.7M487.42 156.33v3.7M489.36 156.33v3.7M491.31 156.33v3.7M493.26 156.33v3.7M495.21 156.33v3.7M497.16 156.33v3.7M499.11 156.33v3.7M501.06 156.33v3.7M503.01 156.33v3.7M504.96 156.33v3.7M506.91 156.33v3.7M508.86 156.33v3.7M510.81 156.33v3.7M512.76 156.33v3.7M514.71 156.33v3.7M516.66 156.33v3.7M518.61 156.33v3.7M520.56 156.33v3.7" fill="none" stroke="#3a3aff" stroke-width="0.6" opacity="0.45"/>
<polyline points="325.60,158.18 327.55,158.18 329.50,158.18 331.45,158.18 333.40,158.18 335.35,158.18 337.30,158.18 339.25,158.18 341.20,158.18 343.15,158.18 345.10,158.18 347.05,158.18 348.99,158.18 350.94,158.18 352.89,158.18 354.84,158.18 356.79,158.18 358.74,158.18 360.69,158.18 362.64,158.18 364.59,158.18 366.54,158.18 368.49,158.18 370.44,158.18 372.39,158.18 374.34,158.18 376.29,152.75 378.24,147.46 380.19,141.76 382.14,136.46 384.09,131.06 386.04,125.66 387.99,119.98 389.94,114.98 391.89,108.98 393.84,104.38 395.78,98.82 397.73,93.72 399.68,87.45 401.63,82.44 403.58,77.76 405.53,69.92 407.48,66.58 409.43,60.95 411.38,55.02 413.33,48.13 415.28,44.78 417.23,38.36 419.18,33.67 421.13,30.28 423.08,21.90 425.03,27.06 426.98,34.09 428.93,39.22 430.88,46.31 432.83,51.66 434.78,55.83 436.73,60.22 438.68,66.67 440.63,71.40 442.57,76.27 444.52,82.39 446.47,87.47 448.42,92.34 450.37,99.43 452.32,103.70 454.27,110.42 456.22,114.73 458.17,120.25 460.12,125.91 462.07,131.43 464.02,136.56 465.97,142.02 467.92,147.35 469.87,152.82 471.82,158.18 473.77,158.18 475.72,158.18 477.67,158.18 479.62,158.18 481.57,158.18 483.52,158.18 485.47,158.18 487.42,158.18 489.36,158.18 491.31,158.18 493.26,158.18 495.21,158.18 497.16,158.18 499.11,158.18 501.06,158.18 503.01,158.18 504.96,158.18 506.91,158.18 508.86,158.18 510.81,158.18 512.76,158.18 514.71,158.18 516.66,158.18 518.61,158.18 520.56,158.18" fill="none" stroke="#ff5050" stroke-width="0.8"/>
<rect x="325.6" y="7.55" width="217.20" height="172.15" fill="none" stroke="#969696" stroke-width="1.15"/>
<path d="M325.60 179.7v-2.17M325.60 7.55v2.17M356.63 179.7v-2.17M356.63 7.55v2.17M387.66 179.7v-2.17M387.66 7.55v2.17M418.69 179.7v-2.17M418.69 7.55v2.17M449.71 179.7v-2.17M449.71 7.55v2.17M480.74 179.7v-2.17M480.74 7.55v2.17M511.77 179.7v-2.17M511.77 7.55v2.17M542.80 179.7v-2.17M542.80 7.55v2.17M325.6 179.70h2.17M542.8 179.70h-2.17M325.6 158.18h2.17M542.8 158.18h-2.17M325.6 136.66h2.17M542.8 136.66h-2.17M325.6 115.14h2.17M542.8 115.14h-2.17M325.6 93.62h2.17M542.8 93.62h-2.17M325.6 72.11h2.17M542.8 72.11h-2.17M325.6 50.59h2.17M542.8 50.59h-2.17M325.6 29.07h2.17M542.8 29.07h-2.17M325.6 7.55h2.17M542.8 7.55h-2.17" stroke="#969696" stroke-width="1.15" fill="none"/>
<rect x="493.2" y="13.3" width="44.10" height="34.50" fill="#fff" stroke="#969696" stroke-width="1.15"/>
<path d="M496 18.4H515.2" stroke="#6a6a6a" stroke-width="1.0"/>
<path d="M496 26.6H515.2M503.75 26.6h3.7M505.60 24.75v3.7" stroke="#3a3aff" stroke-width="0.6"/>
<path d="M496 34.6H515.2" stroke="#30f0ff" stroke-width="0.65"/><circle cx="505.60" cy="34.6" r="2.0" fill="none" stroke="#30f0ff" stroke-width="0.65"/>
<path d="M496 43.2H515.2" stroke="#ff5050" stroke-width="0.8"/>
<g font-family="Liberation Sans, Arial, sans-serif" font-size="6.5" fill="#000" stroke="#000" stroke-width="0.2"><text x="516.6" y="20.94">Exact</text><text x="516.6" y="29.14"><tspan font-size="4.68" dy="0.3">&#x3F5;</tspan><tspan dy="-0.3" dx="0.5" font-size="5.20">=</tspan><tspan dx="0.2">0.1</tspan></text><text x="516.6" y="37.14"><tspan font-size="4.68" dy="0.3">&#x3F5;</tspan><tspan dy="-0.3" dx="0.5" font-size="5.20">=</tspan><tspan dx="0.2">0.05</tspan></text><text x="516.6" y="45.74"><tspan font-size="4.68" dy="0.3">&#x3F5;</tspan><tspan dy="-0.3" dx="0.5" font-size="5.20">=</tspan><tspan dx="0.2">0.01</tspan></text></g>
<polyline points="191.50,395.84 193.45,395.84 195.40,395.84 197.35,395.84 199.30,395.84 201.25,395.84 203.20,395.84 205.15,395.84 207.10,395.84 209.05,395.84 211.00,395.84 212.95,395.84 214.89,395.84 216.84,395.84 218.79,395.84 220.74,395.84 222.69,395.84 224.64,395.84 226.59,395.84 228.54,395.84 230.49,395.84 232.44,395.84 234.39,395.84 236.34,395.84 238.29,395.84 240.24,395.84 242.19,390.44 244.14,385.05 246.09,379.66 248.04,374.26 249.99,368.87 251.94,363.47 253.89,358.08 255.84,352.68 257.79,347.29 259.74,341.90 261.68,336.50 263.63,331.11 265.58,325.71 267.53,320.32 269.48,314.93 271.43,309.53 273.38,304.14 275.33,298.74 277.28,293.35 279.23,287.96 281.18,282.56 283.13,277.17 285.08,271.77 287.03,266.38 288.98,260.98 290.93,266.38 292.88,271.77 294.83,277.17 296.78,282.56 298.73,287.96 300.68,293.35 302.63,298.74 304.58,304.14 306.53,309.53 308.47,314.93 310.42,320.32 312.37,325.71 314.32,331.11 316.27,336.50 318.22,341.90 320.17,347.29 322.12,352.68 324.07,358.08 326.02,363.47 327.97,368.87 329.92,374.26 331.87,379.66 333.82,385.05 335.77,390.44 337.72,395.84 339.67,395.84 341.62,395.84 343.57,395.84 345.52,395.84 347.47,395.84 349.42,395.84 351.37,395.84 353.32,395.84 355.26,395.84 357.21,395.84 359.16,395.84 361.11,395.84 363.06,395.84 365.01,395.84 366.96,395.84 368.91,395.84 370.86,395.84 372.81,395.84 374.76,395.84 376.71,395.84 378.66,395.84 380.61,395.84 382.56,395.84 384.51,395.84 386.46,395.84" fill="none" stroke="#555" stroke-width="0.9"/>
<polyline points="191.50,395.84 193.45,395.84 195.40,395.84 197.35,395.84 199.30,395.84 201.25,395.84 203.20,395.84 205.15,395.84 207.10,395.84 209.05,395.84 211.00,395.84 212.95,395.84 214.89,395.84 216.84,395.84 218.79,395.84 220.74,395.84 222.69,395.84 224.64,395.84 226.59,395.84 228.54,395.84 230.49,395.84 232.44,395.84 234.39,395.84 236.34,395.84 238.29,395.84 240.24,395.84 242.19,390.71 244.14,385.17 246.09,379.67 248.04,377.40 249.99,367.30 251.94,363.78 253.89,358.82 255.84,357.20 257.79,346.26 259.74,342.77 261.68,346.00 263.63,330.80 265.58,332.10 267.53,320.49 269.48,320.10 271.43,309.42 273.38,316.70 275.33,298.60 277.28,306.40 279.23,300.10 281.18,280.61 283.13,277.00 285.08,285.70 287.03,271.20 288.98,261.60 290.93,274.10 292.88,271.59 294.83,283.70 296.78,300.10 298.73,286.48 300.68,291.40 302.63,297.45 304.58,315.50 306.53,320.30 308.47,314.60 310.42,321.02 312.37,331.80 314.32,339.30 316.27,339.50 318.22,351.60 320.17,346.42 322.12,351.70 324.07,359.08 326.02,363.90 327.97,368.52 329.92,377.40 331.87,379.81 333.82,385.07 335.77,390.31 337.72,395.84 339.67,395.84 341.62,395.84 343.57,395.84 345.52,395.84 347.47,395.84 349.42,395.84 351.37,395.84 353.32,395.84 355.26,395.84 357.21,395.84 359.16,395.84 361.11,395.84 363.06,395.84 365.01,395.84 366.96,395.84 368.91,395.84 370.86,395.84 372.81,395.84 374.76,395.84 376.71,395.84 378.66,395.84 380.61,395.84 382.56,395.84 384.51,395.84 386.46,395.84" fill="none" stroke="#3a3aff" stroke-width="0.6"/>
<path d="M189.65 395.84h3.7M191.50 393.99v3.7M191.60 395.84h3.7M193.45 393.99v3.7M193.55 395.84h3.7M195.40 393.99v3.7M195.50 395.84h3.7M197.35 393.99v3.7M197.45 395.84h3.7M199.30 393.99v3.7M199.40 395.84h3.7M201.25 393.99v3.7M201.35 395.84h3.7M203.20 393.99v3.7M203.30 395.84h3.7M205.15 393.99v3.7M205.25 395.84h3.7M207.10 393.99v3.7M207.20 395.84h3.7M209.05 393.99v3.7M209.15 395.84h3.7M211.00 393.99v3.7M211.10 395.84h3.7M212.95 393.99v3.7M213.04 395.84h3.7M214.89 393.99v3.7M214.99 395.84h3.7M216.84 393.99v3.7M216.94 395.84h3.7M218.79 393.99v3.7M218.89 395.84h3.7M220.74 393.99v3.7M220.84 395.84h3.7M222.69 393.99v3.7M222.79 395.84h3.7M224.64 393.99v3.7M224.74 395.84h3.7M226.59 393.99v3.7M226.69 395.84h3.7M228.54 393.99v3.7M228.64 395.84h3.7M230.49 393.99v3.7M230.59 395.84h3.7M232.44 393.99v3.7M232.54 395.84h3.7M234.39 393.99v3.7M234.49 395.84h3.7M236.34 393.99v3.7M236.44 395.84h3.7M238.29 393.99v3.7M238.39 395.84h3.7M240.24 393.99v3.7M240.34 390.71h3.7M242.19 388.86v3.7M242.29 385.17h3.7M244.14 383.32v3.7M244.24 379.67h3.7M246.09 377.82v3.7M246.19 377.40h3.7M248.04 375.55v3.7M248.14 367.30h3.7M249.99 365.45v3.7M250.09 363.78h3.7M251.94 361.93v3.7M252.04 358.82h3.7M253.89 356.97v3.7M253.99 357.20h3.7M255.84 355.35v3.7M255.94 346.26h3.7M257.79 344.41v3.7M257.89 342.77h3.7M259.74 340.92v3.7M259.83 346.00h3.7M261.68 344.15v3.7M261.78 330.80h3.7M263.63 328.95v3.7M263.73 332.10h3.7M265.58 330.25v3.7M265.68 320.49h3.7M267.53 318.64v3.7M267.63 320.10h3.7M269.48 318.25v3.7M269.58 309.42h3.7M271.43 307.57v3.7M271.53 316.70h3.7M273.38 314.85v3.7M273.48 298.60h3.7M275.33 296.75v3.7M275.43 306.40h3.7M277.28 304.55v3.7M277.38 300.10h3.7M279.23 298.25v3.7M279.33 280.61h3.7M281.18 278.76v3.7M281.28 277.00h3.7M283.13 275.15v3.7M283.23 285.70h3.7M285.08 283.85v3.7M285.18 271.20h3.7M287.03 269.35v3.7M287.13 261.60h3.7M288.98 259.75v3.7M289.08 274.10h3.7M290.93 272.25v3.7M291.03 271.59h3.7M292.88 269.74v3.7M292.98 283.70h3.7M294.83 281.85v3.7M294.93 300.10h3.7M296.78 298.25v3.7M296.88 286.48h3.7M298.73 284.63v3.7M298.83 291.40h3.7M300.68 289.55v3.7M300.78 297.45h3.7M302.63 295.60v3.7M302.73 315.50h3.7M304.58 313.65v3.7M304.68 320.30h3.7M306.53 318.45v3.7M306.62 314.60h3.7M308.47 312.75v3.7M308.57 321.02h3.7M310.42 319.17v3.7M310.52 331.80h3.7M312.37 329.95v3.7M312.47 339.30h3.7M314.32 337.45v3.7M314.42 339.50h3.7M316.27 337.65v3.7M316.37 351.60h3.7M318.22 349.75v3.7M318.32 346.42h3.7M320.17 344.57v3.7M320.27 351.70h3.7M322.12 349.85v3.7M322.22 359.08h3.7M324.07 357.23v3.7M324.17 363.90h3.7M326.02 362.05v3.7M326.12 368.52h3.7M327.97 366.67v3.7M328.07 377.40h3.7M329.92 375.55v3.7M330.02 379.81h3.7M331.87 377.96v3.7M331.97 385.07h3.7M333.82 383.22v3.7M333.92 390.31h3.7M335.77 388.46v3.7M335.87 395.84h3.7M337.72 393.99v3.7M337.82 395.84h3.7M339.67 393.99v3.7M339.77 395.84h3.7M341.62 393.99v3.7M341.72 395.84h3.7M343.57 393.99v3.7M343.67 395.84h3.7M345.52 393.99v3.7M345.62 395.84h3.7M347.47 393.99v3.7M347.57 395.84h3.7M349.42 393.99v3.7M349.52 395.84h3.7M351.37 393.99v3.7M351.47 395.84h3.7M353.32 393.99v3.7M353.41 395.84h3.7M355.26 393.99v3.7M355.36 395.84h3.7M357.21 393.99v3.7M357.31 395.84h3.7M359.16 393.99v3.7M359.26 395.84h3.7M361.11 393.99v3.7M361.21 395.84h3.7M363.06 393.99v3.7M363.16 395.84h3.7M365.01 393.99v3.7M365.11 395.84h3.7M366.96 393.99v3.7M367.06 395.84h3.7M368.91 393.99v3.7M369.01 395.84h3.7M370.86 393.99v3.7M370.96 395.84h3.7M372.81 393.99v3.7M372.91 395.84h3.7M374.76 393.99v3.7M374.86 395.84h3.7M376.71 393.99v3.7M376.81 395.84h3.7M378.66 393.99v3.7M378.76 395.84h3.7M380.61 393.99v3.7M380.71 395.84h3.7M382.56 393.99v3.7M382.66 395.84h3.7M384.51 393.99v3.7M384.61 395.84h3.7M386.46 393.99v3.7" fill="none" stroke="#3a3aff" stroke-width="0.6"/>
<polyline points="191.50,395.84 193.45,395.84 195.40,395.84 197.35,395.84 199.30,395.84 201.25,395.84 203.20,395.84 205.15,395.84 207.10,395.84 209.05,395.84 211.00,395.84 212.95,395.84 214.89,395.84 216.84,395.84 218.79,395.84 220.74,395.84 222.69,395.84 224.64,395.84 226.59,395.84 228.54,395.84 230.49,395.84 232.44,395.84 234.39,395.84 236.34,395.84 238.29,395.84 240.24,395.84 242.19,390.46 244.14,385.01 246.09,380.10 248.04,373.76 249.99,369.22 251.94,364.56 253.89,358.13 255.84,350.50 257.79,347.67 259.74,340.64 261.68,335.12 263.63,331.95 265.58,316.40 267.53,316.80 269.48,313.48 271.43,310.59 273.38,306.22 275.33,303.00 277.28,293.35 279.23,281.80 281.18,281.08 283.13,275.41 285.08,273.51 287.03,266.68 288.98,263.28 290.93,271.20 292.88,273.91 294.83,279.30 296.78,278.95 298.73,287.90 300.68,292.40 302.63,295.05 304.58,303.06 306.53,309.68 308.47,314.86 310.42,313.50 312.37,324.56 314.32,330.80 316.27,334.93 318.22,342.18 320.17,347.10 322.12,352.96 324.07,357.72 326.02,363.38 327.97,368.31 329.92,374.44 331.87,379.58 333.82,384.74 335.77,390.46 337.72,395.84 339.67,395.84 341.62,395.84 343.57,395.84 345.52,395.84 347.47,395.84 349.42,395.84 351.37,395.84 353.32,395.84 355.26,395.84 357.21,395.84 359.16,395.84 361.11,395.84 363.06,395.84 365.01,395.84 366.96,395.84 368.91,395.84 370.86,395.84 372.81,395.84 374.76,395.84 376.71,395.84 378.66,395.84 380.61,395.84 382.56,395.84 384.51,395.84 386.46,395.84" fill="none" stroke="#30f0ff" stroke-width="0.65"/>
<g fill="none" stroke="#30f0ff" stroke-width="0.65"><circle cx="191.50" cy="395.84" r="2.0"/><circle cx="193.45" cy="395.84" r="2.0"/><circle cx="195.40" cy="395.84" r="2.0"/><circle cx="197.35" cy="395.84" r="2.0"/><circle cx="199.30" cy="395.84" r="2.0"/><circle cx="201.25" cy="395.84" r="2.0"/><circle cx="203.20" cy="395.84" r="2.0"/><circle cx="205.15" cy="395.84" r="2.0"/><circle cx="207.10" cy="395.84" r="2.0"/><circle cx="209.05" cy="395.84" r="2.0"/><circle cx="211.00" cy="395.84" r="2.0"/><circle cx="212.95" cy="395.84" r="2.0"/><circle cx="214.89" cy="395.84" r="2.0"/><circle cx="216.84" cy="395.84" r="2.0"/><circle cx="218.79" cy="395.84" r="2.0"/><circle cx="220.74" cy="395.84" r="2.0"/><circle cx="222.69" cy="395.84" r="2.0"/><circle cx="224.64" cy="395.84" r="2.0"/><circle cx="226.59" cy="395.84" r="2.0"/><circle cx="228.54" cy="395.84" r="2.0"/><circle cx="230.49" cy="395.84" r="2.0"/><circle cx="232.44" cy="395.84" r="2.0"/><circle cx="234.39" cy="395.84" r="2.0"/><circle cx="236.34" cy="395.84" r="2.0"/><circle cx="238.29" cy="395.84" r="2.0"/><circle cx="240.24" cy="395.84" r="2.0"/><circle cx="242.19" cy="390.46" r="2.0"/><circle cx="244.14" cy="385.01" r="2.0"/><circle cx="246.09" cy="380.10" r="2.0"/><circle cx="248.04" cy="373.76" r="2.0"/><circle cx="249.99" cy="369.22" r="2.0"/><circle cx="251.94" cy="364.56" r="2.0"/><circle cx="253.89" cy="358.13" r="2.0"/><circle cx="255.84" cy="350.50" r="2.0"/><circle cx="257.79" cy="347.67" r="2.0"/><circle cx="259.74" cy="340.64" r="2.0"/><circle cx="261.68" cy="335.12" r="2.0"/><circle cx="263.63" cy="331.95" r="2.0"/><circle cx="265.58" cy="316.40" r="2.0"/><circle cx="267.53" cy="316.80" r="2.0"/><circle cx="269.48" cy="313.48" r="2.0"/><circle cx="271.43" cy="310.59" r="2.0"/><circle cx="273.38" cy="306.22" r="2.0"/><circle cx="275.33" cy="303.00" r="2.0"/><circle cx="277.28" cy="293.35" r="2.0"/><circle cx="279.23" cy="281.80" r="2.0"/><circle cx="281.18" cy="281.08" r="2.0"/><circle cx="283.13" cy="275.41" r="2.0"/><circle cx="285.08" cy="273.51" r="2.0"/><circle cx="287.03" cy="266.68" r="2.0"/><circle cx="288.98" cy="263.28" r="2.0"/><circle cx="290.93" cy="271.20" r="2.0"/><circle cx="292.88" cy="273.91" r="2.0"/><circle cx="294.83" cy="279.30" r="2.0"/><circle cx="296.78" cy="278.95" r="2.0"/><circle cx="298.73" cy="287.90" r="2.0"/><circle cx="300.68" cy="292.40" r="2.0"/><circle cx="302.63" cy="295.05" r="2.0"/><circle cx="304.58" cy="303.06" r="2.0"/><circle cx="306.53" cy="309.68" r="2.0"/><circle cx="308.47" cy="314.86" r="2.0"/><circle cx="310.42" cy="313.50" r="2.0"/><circle cx="312.37" cy="324.56" r="2.0"/><circle cx="314.32" cy="330.80" r="2.0"/><circle cx="316.27" cy="334.93" r="2.0"/><circle cx="318.22" cy="342.18" r="2.0"/><circle cx="320.17" cy="347.10" r="2.0"/><circle cx="322.12" cy="352.96" r="2.0"/><circle cx="324.07" cy="357.72" r="2.0"/><circle cx="326.02" cy="363.38" r="2.0"/><circle cx="327.97" cy="368.31" r="2.0"/><circle cx="329.92" cy="374.44" r="2.0"/><circle cx="331.87" cy="379.58" r="2.0"/><circle cx="333.82" cy="384.74" r="2.0"/><circle cx="335.77" cy="390.46" r="2.0"/><circle cx="337.72" cy="395.84" r="2.0"/><circle cx="339.67" cy="395.84" r="2.0"/><circle cx="341.62" cy="395.84" r="2.0"/><circle cx="343.57" cy="395.84" r="2.0"/><circle cx="345.52" cy="395.84" r="2.0"/><circle cx="347.47" cy="395.84" r="2.0"/><circle cx="349.42" cy="395.84" r="2.0"/><circle cx="351.37" cy="395.84" r="2.0"/><circle cx="353.32" cy="395.84" r="2.0"/><circle cx="355.26" cy="395.84" r="2.0"/><circle cx="357.21" cy="395.84" r="2.0"/><circle cx="359.16" cy="395.84" r="2.0"/><circle cx="361.11" cy="395.84" r="2.0"/><circle cx="363.06" cy="395.84" r="2.0"/><circle cx="365.01" cy="395.84" r="2.0"/><circle cx="366.96" cy="395.84" r="2.0"/><circle cx="368.91" cy="395.84" r="2.0"/><circle cx="370.86" cy="395.84" r="2.0"/><circle cx="372.81" cy="395.84" r="2.0"/><circle cx="374.76" cy="395.84" r="2.0"/><circle cx="376.71" cy="395.84" r="2.0"/><circle cx="378.66" cy="395.84" r="2.0"/><circle cx="380.61" cy="395.84" r="2.0"/><circle cx="382.56" cy="395.84" r="2.0"/><circle cx="384.51" cy="395.84" r="2.0"/><circle cx="386.46" cy="395.84" r="2.0"/></g>
<path d="M191.50 393.99v3.7M193.45 393.99v3.7M195.40 393.99v3.7M197.35 393.99v3.7M199.30 393.99v3.7M201.25 393.99v3.7M203.20 393.99v3.7M205.15 393.99v3.7M207.10 393.99v3.7M209.05 393.99v3.7M211.00 393.99v3.7M212.95 393.99v3.7M214.89 393.99v3.7M216.84 393.99v3.7M218.79 393.99v3.7M220.74 393.99v3.7M222.69 393.99v3.7M224.64 393.99v3.7M226.59 393.99v3.7M228.54 393.99v3.7M230.49 393.99v3.7M232.44 393.99v3.7M234.39 393.99v3.7M236.34 393.99v3.7M238.29 393.99v3.7M337.72 393.99v3.7M339.67 393.99v3.7M341.62 393.99v3.7M343.57 393.99v3.7M345.52 393.99v3.7M347.47 393.99v3.7M349.42 393.99v3.7M351.37 393.99v3.7M353.32 393.99v3.7M355.26 393.99v3.7M357.21 393.99v3.7M359.16 393.99v3.7M361.11 393.99v3.7M363.06 393.99v3.7M365.01 393.99v3.7M366.96 393.99v3.7M368.91 393.99v3.7M370.86 393.99v3.7M372.81 393.99v3.7M374.76 393.99v3.7M376.71 393.99v3.7M378.66 393.99v3.7M380.61 393.99v3.7M382.56 393.99v3.7M384.51 393.99v3.7M386.46 393.99v3.7" fill="none" stroke="#3a3aff" stroke-width="0.6" opacity="0.45"/>
<polyline points="191.50,395.84 193.45,395.84 195.40,395.84 197.35,395.84 199.30,395.84 201.25,395.84 203.20,395.84 205.15,395.84 207.10,395.84 209.05,395.84 211.00,395.84 212.95,395.84 214.89,395.84 216.84,395.84 218.79,395.84 220.74,395.84 222.69,395.84 224.64,395.84 226.59,395.84 228.54,395.84 230.49,395.84 232.44,395.84 234.39,395.84 236.34,395.84 238.29,395.84 240.24,395.84 242.19,390.40 244.14,385.15 246.09,379.53 248.04,374.51 249.99,368.72 251.94,363.81 253.89,358.77 255.84,352.94 257.79,348.00 259.74,341.60 261.68,336.49 263.63,330.78 265.58,325.65 267.53,320.59 269.48,314.90 271.43,308.62 273.38,304.31 275.33,299.48 277.28,294.34 279.23,288.19 281.18,283.41 283.13,274.94 285.08,273.24 287.03,267.78 288.98,261.40 290.93,265.54 292.88,272.11 294.83,278.30 296.78,283.48 298.73,288.33 300.68,292.35 302.63,299.69 304.58,304.22 306.53,310.06 308.47,314.66 310.42,320.02 312.37,326.74 314.32,329.56 316.27,336.39 318.22,342.17 320.17,347.72 322.12,352.80 324.07,358.07 326.02,363.28 327.97,368.87 329.92,374.16 331.87,379.92 333.82,385.13 335.77,390.50 337.72,395.84 339.67,395.84 341.62,395.84 343.57,395.84 345.52,395.84 347.47,395.84 349.42,395.84 351.37,395.84 353.32,395.84 355.26,395.84 357.21,395.84 359.16,395.84 361.11,395.84 363.06,395.84 365.01,395.84 366.96,395.84 368.91,395.84 370.86,395.84 372.81,395.84 374.76,395.84 376.71,395.84 378.66,395.84 380.61,395.84 382.56,395.84 384.51,395.84 386.46,395.84" fill="none" stroke="#ff5050" stroke-width="0.8"/>
<rect x="191.5" y="245.6" width="217.20" height="171.70" fill="none" stroke="#969696" stroke-width="1.15"/>
<path d="M191.50 417.3v-2.17M191.50 245.6v2.17M222.53 417.3v-2.17M222.53 245.6v2.17M253.56 417.3v-2.17M253.56 245.6v2.17M284.59 417.3v-2.17M284.59 245.6v2.17M315.61 417.3v-2.17M315.61 245.6v2.17M346.64 417.3v-2.17M346.64 245.6v2.17M377.67 417.3v-2.17M377.67 245.6v2.17M408.70 417.3v-2.17M408.70 245.6v2.17M191.5 417.30h2.17M408.7 417.30h-2.17M191.5 395.84h2.17M408.7 395.84h-2.17M191.5 374.38h2.17M408.7 374.38h-2.17M191.5 352.91h2.17M408.7 352.91h-2.17M191.5 331.45h2.17M408.7 331.45h-2.17M191.5 309.99h2.17M408.7 309.99h-2.17M191.5 288.52h2.17M408.7 288.52h-2.17M191.5 267.06h2.17M408.7 267.06h-2.17M191.5 245.60h2.17M408.7 245.60h-2.17" stroke="#969696" stroke-width="1.15" fill="none"/>
<rect x="359.2" y="251.2" width="43.70" height="34.30" fill="#fff" stroke="#969696" stroke-width="1.15"/>
<path d="M361.5 256.5H381" stroke="#6a6a6a" stroke-width="1.0"/>
<path d="M361.5 264.6H381M369.40 264.6h3.7M371.25 262.75v3.7" stroke="#3a3aff" stroke-width="0.6"/>
<path d="M361.5 272.9H381" stroke="#30f0ff" stroke-width="0.65"/><circle cx="371.25" cy="272.9" r="2.0" fill="none" stroke="#30f0ff" stroke-width="0.65"/>
<path d="M361.5 281.2H381" stroke="#ff5050" stroke-width="0.8"/>
<g font-family="Liberation Sans, Arial, sans-serif" font-size="6.5" fill="#000" stroke="#000" stroke-width="0.2"><text x="383" y="259.04">Exact</text><text x="383" y="267.14"><tspan font-size="4.68" dy="0.3">&#x3F5;</tspan><tspan dy="-0.3" dx="0.5" font-size="5.20">=</tspan><tspan dx="0.2">0.1</tspan></text><text x="383" y="275.44"><tspan font-size="4.68" dy="0.3">&#x3F5;</tspan><tspan dy="-0.3" dx="0.5" font-size="5.20">=</tspan><tspan dx="0.2">0.05</tspan></text><text x="383" y="283.74"><tspan font-size="4.68" dy="0.3">&#x3F5;</tspan><tspan dy="-0.3" dx="0.5" font-size="5.20">=</tspan><tspan dx="0.2">0.01</tspan></text></g>

</g>
<g font-family="Liberation Sans, Arial, sans-serif" fill="#111" stroke="#111" stroke-width="0.2" font-size="7.0"><text x="28.50" y="194.32" text-anchor="middle">0</text><text x="60.36" y="194.32" text-anchor="middle">0.5</text><text x="92.21" y="194.32" text-anchor="middle">1</text><text x="124.07" y="194.32" text-anchor="middle">1.5</text><text x="155.93" y="194.32" text-anchor="middle">2</text><text x="187.79" y="194.32" text-anchor="middle">2.5</text><text x="219.64" y="194.32" text-anchor="middle">3</text><text x="251.50" y="194.32" text-anchor="middle">3.5</text><text x="25.30" y="186.32" text-anchor="end">-0.5</text><text x="25.30" y="164.22" text-anchor="end">0</text><text x="25.30" y="142.12" text-anchor="end">0.5</text><text x="25.30" y="120.02" text-anchor="end">1</text><text x="25.30" y="97.92" text-anchor="end">1.5</text><text x="25.30" y="75.82" text-anchor="end">2</text><text x="25.30" y="53.72" text-anchor="end">2.5</text><text x="25.30" y="31.62" text-anchor="end">3</text><text x="25.30" y="9.52" text-anchor="end">3.5</text></g><text x="140.00" y="204.30" text-anchor="middle" font-family="Liberation Sans, Arial, sans-serif" fill="#111" stroke="#111" stroke-width="0.2" font-size="7.7">r</text><text transform="translate(9.60,97.00) rotate(-90)" text-anchor="middle" font-family="Liberation Sans, Arial, sans-serif" fill="#111" stroke="#111" stroke-width="0.2" font-size="7.7">The exact solution f(r) and its approximations</text><g font-family="Liberation Sans, Arial, sans-serif" fill="#111" stroke="#111" stroke-width="0.2" font-size="7.0"><text x="325.60" y="190.22" text-anchor="middle">0</text><text x="356.63" y="190.22" text-anchor="middle">0.5</text><text x="387.66" y="190.22" text-anchor="middle">1</text><text x="418.69" y="190.22" text-anchor="middle">1.5</text><text x="449.71" y="190.22" text-anchor="middle">2</text><text x="480.74" y="190.22" text-anchor="middle">2.5</text><text x="511.77" y="190.22" text-anchor="middle">3</text><text x="542.80" y="190.22" text-anchor="middle">3.5</text><text x="322.40" y="182.22" text-anchor="end">-0.5</text><text x="322.40" y="160.70" text-anchor="end">0</text><text x="322.40" y="139.18" text-anchor="end">0.5</text><text x="322.40" y="117.66" text-anchor="end">1</text><text x="322.40" y="96.14" text-anchor="end">1.5</text><text x="322.40" y="74.63" text-anchor="end">2</text><text x="322.40" y="53.11" text-anchor="end">2.5</text><text x="322.40" y="31.59" text-anchor="end">3</text><text x="322.40" y="10.07" text-anchor="end">3.5</text></g><text x="434.20" y="199.90" text-anchor="middle" font-family="Liberation Sans, Arial, sans-serif" fill="#111" stroke="#111" stroke-width="0.2" font-size="7.45">r</text><text transform="translate(307.40,94.12) rotate(-90)" text-anchor="middle" font-family="Liberation Sans, Arial, sans-serif" fill="#111" stroke="#111" stroke-width="0.2" font-size="7.45">The exact solution f(r) and its approximations</text><g font-family="Liberation Sans, Arial, sans-serif" fill="#111" stroke="#111" stroke-width="0.2" font-size="7.0"><text x="191.50" y="427.82" text-anchor="middle">0</text><text x="222.53" y="427.82" text-anchor="middle">0.5</text><text x="253.56" y="427.82" text-anchor="middle">1</text><text x="284.59" y="427.82" text-anchor="middle">1.5</text><text x="315.61" y="427.82" text-anchor="middle">2</text><text x="346.64" y="427.82" text-anchor="middle">2.5</text><text x="377.67" y="427.82" text-anchor="middle">3</text><text x="408.70" y="427.82" text-anchor="middle">3.5</text><text x="189.00" y="419.82" text-anchor="end">-0.5</text><text x="189.00" y="398.36" text-anchor="end">0</text><text x="189.00" y="376.89" text-anchor="end">0.5</text><text x="189.00" y="355.43" text-anchor="end">1</text><text x="189.00" y="333.97" text-anchor="end">1.5</text><text x="189.00" y="312.51" text-anchor="end">2</text><text x="189.00" y="291.04" text-anchor="end">2.5</text><text x="189.00" y="269.58" text-anchor="end">3</text><text x="189.00" y="248.12" text-anchor="end">3.5</text></g><text x="300.10" y="437.20" text-anchor="middle" font-family="Liberation Sans, Arial, sans-serif" fill="#111" stroke="#111" stroke-width="0.2" font-size="7.45">r</text><text transform="translate(173.40,332.15) rotate(-90)" text-anchor="middle" font-family="Liberation Sans, Arial, sans-serif" fill="#111" stroke="#111" stroke-width="0.2" font-size="7.45">The exact solution f(r) and its approximations</text>
<text x="138.2" y="226" text-anchor="middle" font-family="Liberation Serif, serif" font-size="14.2" fill="#000">(<tspan font-weight="bold" font-size="13.8">a</tspan>)</text><text x="426.1" y="226.4" text-anchor="middle" font-family="Liberation Serif, serif" font-size="16.3" fill="#000">(<tspan font-weight="bold" font-size="15.0">b</tspan>)</text><text x="287.5" y="460.0" text-anchor="middle" font-family="Liberation Serif, serif" font-size="16.3" fill="#000">(<tspan font-weight="bold" font-size="15.0">c</tspan>)</text>
</svg>
</body></html>
